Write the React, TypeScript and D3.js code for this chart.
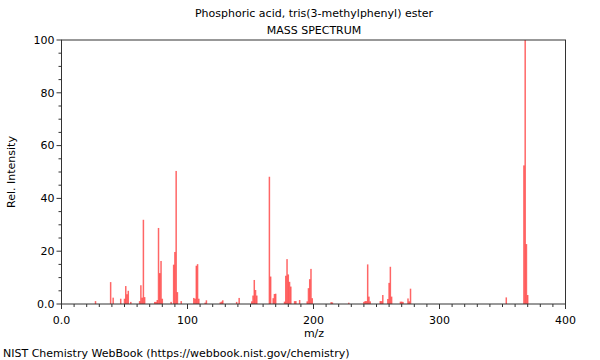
import * as d3 from "d3";
import React from "react";

const title = "Phosphoric acid, tris(3-methylphenyl) ester";
const subtitle = "MASS SPECTRUM";
const footer = "NIST Chemistry WebBook (https://webbook.nist.gov/chemistry)";

// m/z and relative intensity
const mz = [
  27, 39, 41, 47, 50, 51, 52, 53, 55, 62, 63, 64, 65, 66, 74, 75, 76, 77, 78, 79,
  80, 87, 89, 90, 91, 92, 95, 105, 106, 107, 108, 109, 114, 115, 126, 127, 128,
  139, 141, 151, 152, 153, 154, 155, 165, 166, 168, 169, 170, 177, 178, 179, 180,
  181, 182, 185, 186, 189, 195, 196, 197, 198, 199, 214, 215, 228, 240, 241, 242,
  243, 244, 245, 253, 254, 255, 259, 260, 261, 262, 269, 270, 271, 275, 276, 277,
  353, 367, 368, 369, 370,
];
const intensity = [
  1.1, 8.3, 2.4, 2.0, 2.0, 6.8, 3.7, 5.0, 0.8, 1.1, 7.1, 2.4, 31.9, 2.6, 0.8, 0.8,
  1.5, 28.8, 11.7, 16.3, 2.0, 0.8, 14.9, 19.7, 50.4, 4.5, 1.1, 2.3, 2.0, 14.5,
  15.1, 2.0, 0.5, 1.4, 0.6, 0.9, 1.4, 0.8, 2.3, 1.0, 3.2, 9.1, 5.3, 3.2, 48.2,
  10.4, 2.2, 3.8, 3.9, 0.9, 10.7, 17.0, 11.2, 8.4, 6.6, 1.1, 1.1, 1.5, 1.0, 6.0,
  9.4, 13.3, 2.2, 0.7, 0.6, 0.5, 0.8, 1.1, 1.1, 15.0, 2.8, 1.0, 1.1, 1.1, 3.4,
  1.9, 8.0, 14.1, 2.8, 0.9, 0.9, 0.8, 2.1, 1.0, 5.8, 2.5, 52.5, 100, 22.7, 3.4,
];

const xMajor = [0, 100, 200, 300, 400];
const yMajor = [0, 20, 40, 60, 80, 100];

const W = 600;
const H = 360;
const left = 61.5;
const right = 565.5;
const top = 40;
const bottom = 304;
const font = "DejaVu Sans, sans-serif";

const fmt = (v: number) => (v === 0 ? "0.0" : String(v));

const App = () => {
  const x = d3.scaleLinear().domain([0, 400]).range([left, right]);
  const y = d3.scaleLinear().domain([0, 100]).range([bottom, top]);
  const xMinor = d3.range(0, 401, 10).filter((v) => v % 100 !== 0);
  const yMinor = d3.range(0, 101, 5).filter((v) => v % 20 !== 0);
  const peaks = mz.map((m, i) => ({ m, v: intensity[i] }));

  return (
    <svg
      width={W}
      height={H}
      style={{ position: "absolute", left: 0, top: 0, background: "#fff" }}
      fontFamily={font}
    >
      <rect width={W} height={H} fill="#fff" />
      <text x={314} y={17} fontSize={11} textAnchor="middle">
        {title}
      </text>
      <text x={314} y={34} fontSize={11} textAnchor="middle">
        {subtitle}
      </text>

      {/* peaks */}
      <g>
        {peaks.map((p) => (
          <rect
            key={p.m}
            x={x(p.m) - 0.75}
            y={y(p.v)}
            width={1.5}
            height={bottom - y(p.v)}
            fill="#ff0000"
            fillOpacity={0.6}
          />
        ))}
      </g>

      {/* frame */}
      <rect
        x={left}
        y={top}
        width={right - left}
        height={bottom - top}
        fill="none"
        stroke="#333"
        strokeWidth={1}
      />

      {/* x axis */}
      <g stroke="#333">
        {xMinor.map((v) => (
          <line key={v} x1={x(v)} x2={x(v)} y1={bottom} y2={bottom + 3} />
        ))}
        {xMajor.map((v) => (
          <line key={v} x1={x(v)} x2={x(v)} y1={bottom} y2={bottom + 5} />
        ))}
      </g>
      {xMajor.map((v) => (
        <text key={v} x={x(v)} y={324} fontSize={11} textAnchor="middle" fill="#000">
          {fmt(v)}
        </text>
      ))}
      <text x={314} y={337} fontSize={11} textAnchor="middle">
        m/z
      </text>

      {/* y axis */}
      <g stroke="#333">
        {yMinor.map((v) => (
          <line key={v} x1={left - 3} x2={left} y1={y(v)} y2={y(v)} />
        ))}
        {yMajor.map((v) => (
          <line key={v} x1={left - 5} x2={left} y1={y(v)} y2={y(v)} />
        ))}
      </g>
      {yMajor.map((v) => (
        <text
          key={v}
          x={left - 7}
          y={y(v)}
          dy="0.35em"
          fontSize={11}
          textAnchor="end"
          fill="#000"
        >
          {fmt(v)}
        </text>
      ))}
      <text
        transform={`translate(15,${(top + bottom) / 2}) rotate(-90)`}
        fontSize={11}
        textAnchor="middle"
      >
        Rel. Intensity
      </text>

      <text x={3} y={357} fontSize={11}>
        {footer}
      </text>
    </svg>
  );
};

export default App;
